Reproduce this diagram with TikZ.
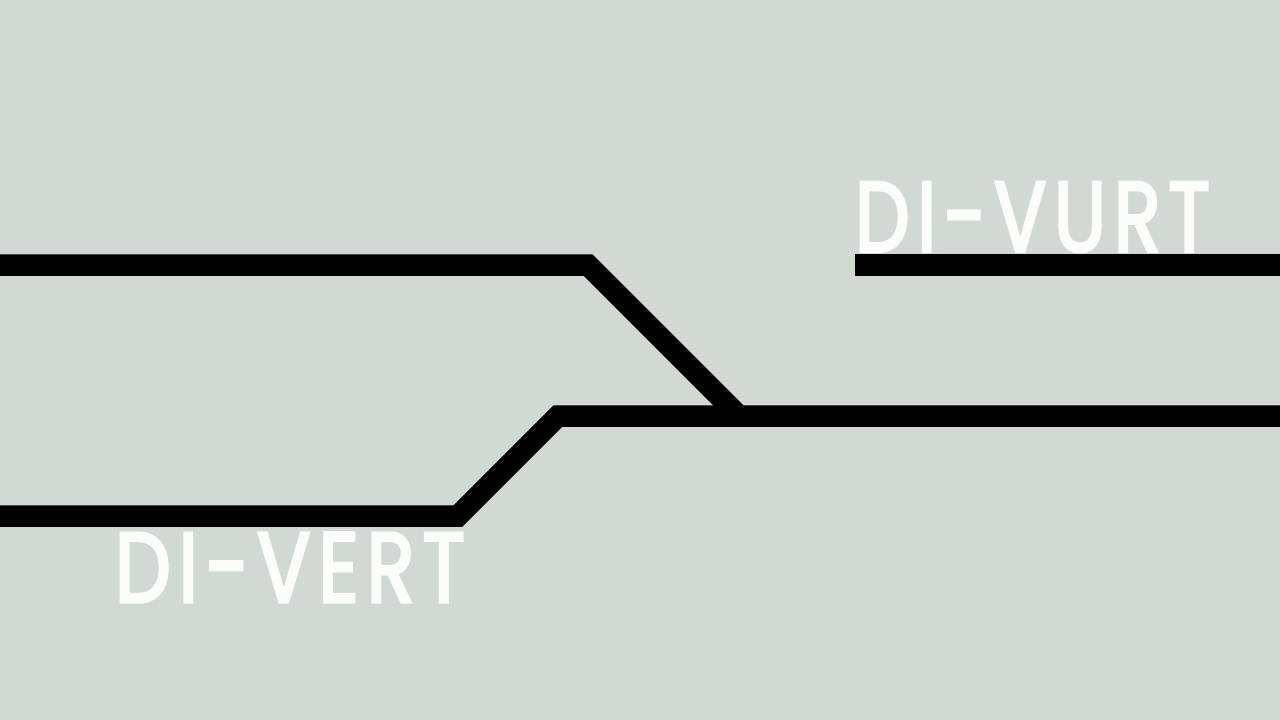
\documentclass[tikz,border=0pt]{standalone}
\usepackage{fontspec}
\usepackage{graphicx}
\setmainfont{Poppins}
\newfontfamily\trackfont{Poppins}[LetterSpace=10, FakeBold=3.5]
\definecolor{bg}{RGB}{209,217,210}
\definecolor{txt}{RGB}{250,253,248}
\tikzset{
  track/.style={line width=21.5pt, draw=black, line join=miter},
  label/.style={inner sep=0pt, outer sep=0pt, text=txt, anchor=south west}
}
\begin{document}
\begin{tikzpicture}[x=1pt,y=-1pt]
\fill[bg] (0,0) rectangle (1280,720);
\useasboundingbox (0,0) rectangle (1280,720);
\coordinate (a1) at (-20,265);
\coordinate (a2) at (588,265);
\coordinate (a3) at (739,416);
\coordinate (b1) at (-20,516);
\coordinate (b2) at (458,516);
\coordinate (m) at (558,416);
\coordinate (e) at (1300,416);
\coordinate (r1) at (855,265);
\coordinate (r2) at (1300,265);
\draw[track] (a1) -- (a2) -- (a3);
\draw[track] (b1) -- (b2) -- (m) -- (e);
\draw[track] (r1) -- (r2);
\node[label] (vert) at (115,602) {\resizebox{350pt}{69pt}{\trackfont DI-VERT}};
\node[label] (vurt) at (855,252) {\resizebox{355pt}{69pt}{\trackfont DI-VURT}};
\end{tikzpicture}
\end{document}
